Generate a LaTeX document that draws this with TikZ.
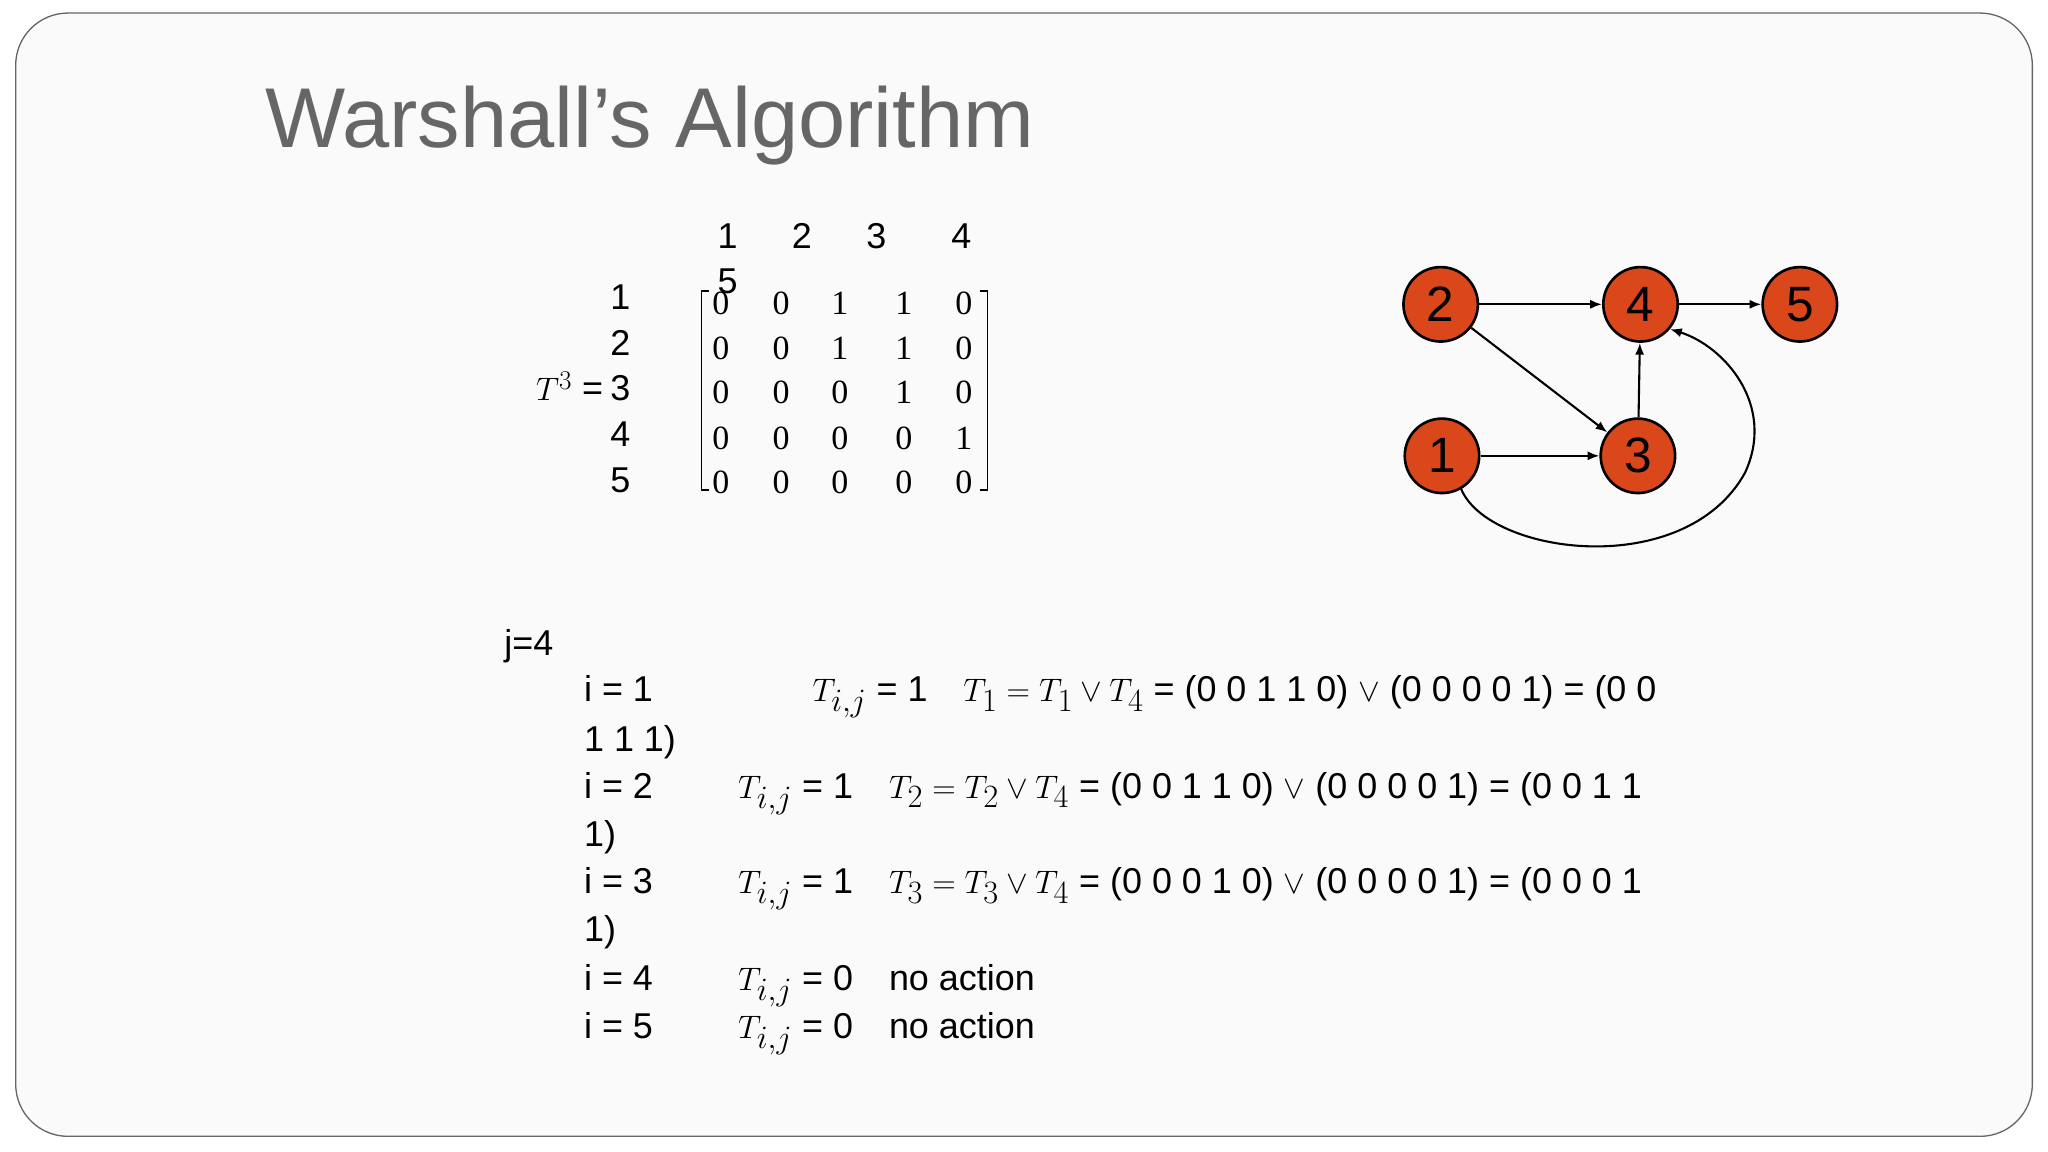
\documentclass[tikz,border=0pt]{standalone}
\usepackage{fontspec}
\setmainfont{Liberation Sans}
\newfontfamily\serifnum{Liberation Serif}
\usetikzlibrary{arrows.meta}
\definecolor{nodeor}{HTML}{D9471B}
\definecolor{titlegray}{HTML}{666666}
\newcommand{\mth}[1]{{\fontsize{33}{35}\selectfont$#1$}}
\tikzset{
  body/.style={anchor=base west,inner sep=0pt,font=\fontsize{27.5}{30}\selectfont},
  ent/.style={anchor=base,inner sep=0pt,font=\fontsize{26}{28}\serifnum},
  vtx/.style={circle,draw=black,line width=2pt,fill=nodeor,minimum size=57pt,inner sep=0pt,font=\fontsize{38}{40}\selectfont},
  edge/.style={-{Latex[length=9pt,width=7pt]},line width=1.6pt}
}
\begin{document}
\begin{tikzpicture}[x=1pt,y=-1pt]
\useasboundingbox (0,0) rectangle (1568,882);
\fill[white] (0,0) rectangle (1568,882);
\draw[line width=1pt,fill=black!2,rounded corners=40pt,draw=black!60] (12,10) rectangle (1556,870);
\node[anchor=base west,inner sep=0pt,text=titlegray,font=\fontsize{65}{70}\selectfont] (title) at (203,113) {Warshall’s Algorithm};
% column headers
\foreach \t/\x in {1/557,2/614,3/671,4/736}{\node[body,anchor=base] (ch\t) at (\x,190) {\t};}
\node[body,anchor=base] (ch5) at (557,225) {5};
\foreach \t/\y in {1/237,2/272,3/307,4/342,5/377}{\node[body,anchor=base] (rh\t) at (475,\y) {\t};}
\node[body,anchor=base east] (teq) at (462,307) {{\fontsize{30}{32}\selectfont$T^3$} =};
% brackets
\draw[line width=1.3pt] (543,223) -- (537,223) -- (537,375) -- (543,375);
\draw[line width=1.3pt] (750,223) -- (756,223) -- (756,375) -- (750,375);
\foreach \r/\y [count=\i] in {{0,0,1,1,0}/241,{0,0,1,1,0}/275,{0,0,0,1,0}/309,{0,0,0,0,1}/344,{0,0,0,0,0}/378}{
  \foreach \v [count=\k] in \r {
    \pgfmathsetmacro{\xx}{{552,598,643,692,738}[\k-1]}
    \node[ent] (m\i\k) at (\xx,\y) {\v};
  }
}
% graph
\node[vtx] (n2) at (1103,233) {2};
\node[vtx] (n4) at (1256,233) {4};
\node[vtx] (n5) at (1378,233) {5};
\node[vtx] (n1) at (1104,349) {1};
\node[vtx] (n3) at (1254,349) {3};
\draw[edge] (n2) -- (n4);
\draw[edge] (n4) -- (n5);
\draw[edge] (n2) -- (n3);
\draw[edge] (n1) -- (n3);
\draw[edge] (n3) -- (n4);
\draw[edge] (n1.-60) .. controls (1140,425) and (1290,445) .. (1336,362) .. controls (1360,310) and (1320,265) .. (n4.-40);
% text
\node[body] (j4) at (386,502) {j=4};
\node[body] (i1) at (447,537) {i = 1};
\node[body] (t1) at (622,537) {\mth{T_{i,j}} = 1\quad \mth{T_1=T_1\vee T_4} = (0 0 1 1 0) \mth{\vee} (0 0 0 0 1) = (0 0};
\node[body] (c1) at (447,575) {1 1 1)};
\node[body] (i2) at (447,611) {i = 2};
\node[body] (t2) at (565,611) {\mth{T_{i,j}} = 1\quad \mth{T_2=T_2\vee T_4} = (0 0 1 1 0) \mth{\vee} (0 0 0 0 1) = (0 0 1 1};
\node[body] (c2) at (447,648) {1)};
\node[body] (i3) at (447,684) {i = 3};
\node[body] (t3) at (565,684) {\mth{T_{i,j}} = 1\quad \mth{T_3=T_3\vee T_4} = (0 0 0 1 0) \mth{\vee} (0 0 0 0 1) = (0 0 0 1};
\node[body] (c3) at (447,721) {1)};
\node[body] (i4) at (447,758) {i = 4};
\node[body] (t4) at (565,758) {\mth{T_{i,j}} = 0\quad no action};
\node[body] (i5) at (447,795) {i = 5};
\node[body] (t5) at (565,795) {\mth{T_{i,j}} = 0\quad no action};
\end{tikzpicture}
\end{document}
